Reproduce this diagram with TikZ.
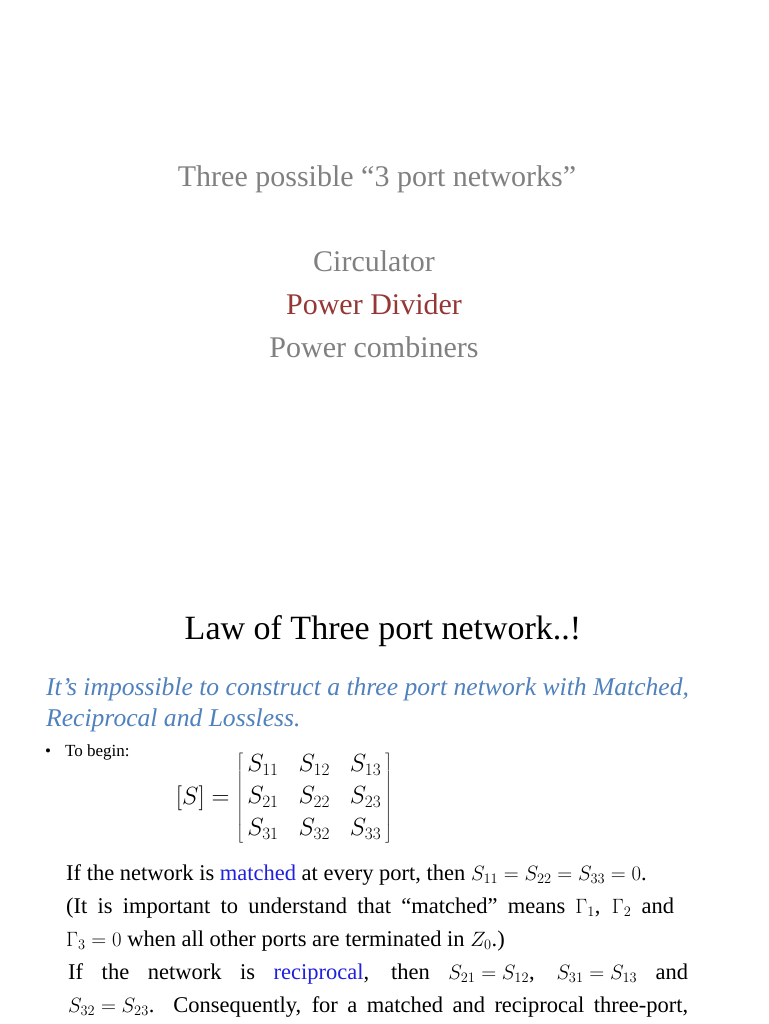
\documentclass[tikz,border=0pt]{standalone}
\usepackage{fontspec}
\setmainfont{Liberation Serif}
\definecolor{gr}{HTML}{808080}
\definecolor{dred}{HTML}{953735}
\definecolor{lblue}{HTML}{4F81BD}
\definecolor{mblue}{HTML}{1F1FE0}
\begin{document}
\begin{tikzpicture}[x=1pt,y=-1pt,
  tx/.style={inner sep=0pt,anchor=base west},
  ttl/.style={inner sep=0pt,anchor=base,font=\fontsize{30}{34}\selectfont,text=gr}]
\useasboundingbox (0,0) rectangle (768,1024);
\node[ttl] (t1) at (377,187) {Three possible “3 port networks”};
\node[ttl] (t2) at (374,271) {Circulator};
\node[ttl,text=dred] (t3) at (374,314) {Power Divider};
\node[ttl] (t4) at (374,357) {Power combiners};
\node[inner sep=0pt,anchor=base,font=\fontsize{34}{38}\selectfont] (law) at (383,639) {Law of Three port network..!};
\node[tx,font=\fontsize{25.6}{29}\selectfont\itshape,text=lblue] (b1) at (46,695) {It’s impossible to construct a three port network with Matched,};
\node[tx,font=\fontsize{25.6}{29}\selectfont\itshape,text=lblue] (b2) at (46,726) {Reciprocal and Lossless.};
\node[tx,font=\fontsize{17}{20}\selectfont] (tb) at (45,756) {•\hspace{14pt}To begin:};
\node[inner sep=0pt,font=\fontsize{24}{28}\selectfont] (mat) at (284,798)
 {\setlength{\arraycolsep}{10pt}$[S]=\left[\begin{array}{@{\,}lll@{\,}}S_{11}&S_{12}&S_{13}\\[4pt] S_{21}&S_{22}&S_{23}\\[4pt] S_{31}&S_{32}&S_{33}\end{array}\right]$};
\begin{scope}[every node/.style={tx,font=\fontsize{22.5}{26}\selectfont}]
\node (p1) at (66,880) {If the network is \textcolor{mblue}{matched} at every port, then \mbox{$S_{11}=S_{22}=S_{33}=0$}.};
\node (p2) at (66,913) {\makebox[608pt][s]{(It is important to understand that “matched” means \mbox{$\Gamma_1$}, \mbox{$\Gamma_2$} and}};
\node (p3) at (66,946) {\mbox{$\Gamma_3=0$} when all other ports are terminated in \mbox{$Z_0$}.)};
\node (p4) at (68,979) {\makebox[620pt][s]{If the network is \textcolor{mblue}{reciprocal}, then \mbox{$S_{21}=S_{12}$}, \mbox{$S_{31}=S_{13}$} and}};
\node (p5) at (68,1012) {\makebox[620pt][s]{\mbox{$S_{32}=S_{23}$}. Consequently, for a matched and reciprocal three-port,}};
\end{scope}
\end{tikzpicture}
\end{document}
